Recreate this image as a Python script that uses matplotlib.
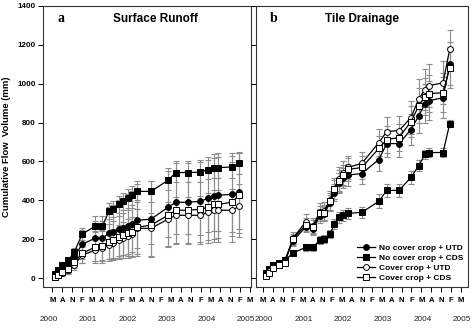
import numpy as np
import matplotlib.pyplot as plt

# sampling dates (decimal years)
dates = [2000.41, 2000.48, 2000.58, 2000.74, 2000.89, 2001.09, 2001.42, 2001.60,
         2001.77, 2001.87, 2002.03, 2002.13, 2002.25, 2002.35, 2002.48, 2002.83,
         2003.26, 2003.46, 2003.77, 2004.07, 2004.27, 2004.42, 2004.53, 2004.88,
         2005.05]

series_names = ["No cover crop + UTD", "No cover crop + CDS",
                "Cover crop + UTD", "Cover crop + CDS"]

# ── Surface runoff (mm) ────────────────────────────────
sr_nc_utd = [18, 35, 50, 75, 110, 174, 205, 205, 231, 236, 251, 256, 267, 277,
             297, 303, 364, 390, 390, 395, 410, 420, 426, 431, 441]
sr_nc_cds = [20, 41, 67, 92, 133, 226, 267, 267, 344, 354, 379, 395, 410, 426,
             446, 446, 503, 543, 543, 545, 558, 566, 568, 572, 590]
sr_cc_utd = [5, 15, 25, 40, 67, 118, 144, 154, 169, 180, 195, 205, 215, 226,
             256, 256, 303, 323, 323, 323, 338, 349, 349, 349, 369]
sr_cc_cds = [8, 18, 32, 48, 82, 128, 159, 164, 185, 195, 210, 220, 231, 236,
             262, 272, 323, 349, 349, 354, 364, 379, 379, 390, 426]

sr_nc_utd_err = [8, 12, 18, 28, 40, 75, 115, 115, 135, 140, 150, 155, 165, 170,
                 185, 195, 200, 210, 210, 210, 215, 220, 220, 215, 210]
sr_nc_cds_err = [8, 10, 12, 15, 20, 30, 25, 25, 40, 40, 45, 45, 50, 50, 55,
                 55, 50, 50, 50, 50, 50, 50, 55, 55, 56]
sr_cc_utd_err = [4, 8, 12, 18, 25, 40, 55, 60, 70, 75, 80, 85, 90, 90, 100,
                 80, 90, 95, 95, 100, 100, 105, 105, 110, 115]
sr_cc_cds_err = [5, 10, 15, 20, 30, 50, 80, 85, 95, 100, 110, 115, 120, 125,
                 140, 160, 165, 175, 175, 180, 185, 195, 195, 205, 215]

# ── Tile drainage (mm) ─────────────────────────────────
td_nc_utd = [20, 45, 60, 75, 95, 190, 265, 250, 320, 330, 385, 440, 490, 515,
             530, 538, 610, 692, 692, 764, 836, 897, 913, 928, 1103]
td_nc_cds = [25, 45, 65, 80, 92, 128, 159, 159, 195, 200, 226, 277, 313, 323,
             333, 338, 395, 451, 451, 518, 579, 636, 646, 646, 795]
td_cc_utd = [15, 35, 55, 70, 85, 205, 290, 270, 340, 345, 400, 460, 510, 540,
             569, 590, 697, 754, 759, 826, 923, 969, 990, 1005, 1179]
td_cc_cds = [10, 25, 50, 65, 80, 200, 275, 262, 333, 335, 395, 456, 500, 528,
             559, 569, 667, 713, 723, 805, 887, 933, 949, 954, 1082]

td_nc_utd_err = [6, 8, 10, 12, 15, 25, 30, 30, 35, 35, 40, 45, 50, 50, 55, 55,
                 60, 70, 70, 80, 90, 100, 100, 105, 110]
td_nc_cds_err = [5, 6, 8, 10, 10, 15, 18, 18, 20, 20, 22, 25, 28, 28, 30, 30,
                 35, 35, 35, 35, 30, 25, 25, 25, 20]
td_cc_utd_err = [6, 8, 10, 12, 15, 30, 40, 40, 45, 45, 50, 55, 60, 60, 60, 60,
                 70, 75, 75, 85, 100, 105, 110, 110, 98]
td_cc_cds_err = [6, 8, 10, 12, 15, 28, 35, 35, 40, 40, 45, 50, 55, 55, 58, 58,
                 65, 70, 70, 80, 90, 95, 95, 100, 105]

month_letters = ["M", "A", "N", "F"] * 5 + ["M"]
month_ticks = [2000 + 4 / 12 + 0.25 * i for i in range(21)]
years = [2000, 2001, 2002, 2003, 2004, 2005]

styles = [dict(marker="o", mfc="black", ms=4.2),
          dict(marker="s", mfc="black", ms=4.6),
          dict(marker="o", mfc="white", ms=4.2),
          dict(marker="s", mfc="white", ms=4.6)]

plt.rcParams["font.family"] = ["Liberation Sans", "DejaVu Sans"]

fig = plt.figure(figsize=(4.74, 3.28), dpi=100)
ax1 = fig.add_axes([43 / 474, 1 - 287 / 328, 208 / 474, 281 / 328])
ax2 = fig.add_axes([256 / 474, 1 - 287 / 328, 212 / 474, 281 / 328])


def draw(ax, vals, errs):
    for v, e in zip(vals, errs):
        ax.errorbar(dates, v, yerr=e, fmt="none", ecolor="#8c8c8c",
                    elinewidth=0.8, capsize=2.2, capthick=0.8, zorder=1)
    for v, st, name in zip(vals, styles, series_names):
        ax.plot(dates, v, color="black", lw=0.9, mec="black", mew=0.7,
                zorder=3, label=name, **st)


draw(ax1, [sr_nc_utd, sr_nc_cds, sr_cc_utd, sr_cc_cds],
     [sr_nc_utd_err, sr_nc_cds_err, sr_cc_utd_err, sr_cc_cds_err])
draw(ax2, [td_nc_utd, td_nc_cds, td_cc_utd, td_cc_cds],
     [td_nc_utd_err, td_nc_cds_err, td_cc_utd_err, td_cc_cds_err])

ax1.set_xlim(2000.10, 2005.36)
ax2.set_xlim(2000.16, 2005.51)

for ax, yoff in [(ax1, 0.24), (ax2, 0.36)]:
    ax.set_ylim(-46, 1400)
    ax.set_yticks(range(0, 1401, 200))
    ax.set_xticks(month_ticks)
    ax.set_xticklabels(month_letters, fontsize=5.5, fontweight="bold")
    ax.tick_params(axis="x", length=3.5, width=0.7, pad=4)
    ax.tick_params(axis="y", length=3.5, width=0.7, pad=2)
    for sp in ax.spines.values():
        sp.set_linewidth(0.8)
        sp.set_color("#333333")
    for yr in years:
        ax.text(yr + yoff, -0.115, str(yr), transform=ax.get_xaxis_transform(),
                ha="center", va="center", fontsize=5.9, color="#222222",
                clip_on=False)

ax1.set_yticklabels([str(v) for v in range(0, 1401, 200)], fontsize=5.8,
                    fontweight="bold")
ax2.set_yticklabels([])
ax1.set_ylabel("Cumulative Flow  Volume (mm)", fontsize=6.8, fontweight="bold",
               labelpad=4)

ax1.text(0.07, 0.955, "a", transform=ax1.transAxes, fontsize=10,
         fontweight="bold", family="Liberation Serif", va="center")
ax1.text(0.54, 0.955, "Surface Runoff", transform=ax1.transAxes, fontsize=8.5,
         fontweight="bold", ha="center", va="center")
ax2.text(0.065, 0.955, "b", transform=ax2.transAxes, fontsize=10,
         fontweight="bold", family="Liberation Serif", va="center")
ax2.text(0.50, 0.955, "Tile Drainage", transform=ax2.transAxes, fontsize=8.5,
         fontweight="bold", ha="center", va="center")

ax2.legend(loc="lower right", frameon=False,
           prop=dict(weight="bold", size=6), handlelength=2.2,
           labelspacing=0.25, handletextpad=0.4,
           borderaxespad=0.2, bbox_to_anchor=(1.0, 0.0))

fig.savefig("out.png", dpi=100)
